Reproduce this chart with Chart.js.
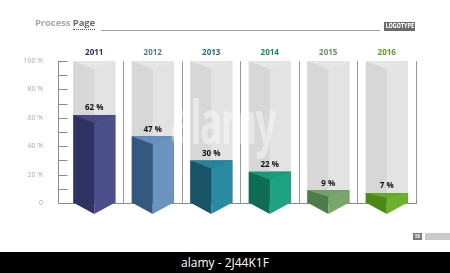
<!DOCTYPE html>
<html>
<head>
<meta charset="utf-8">
<script src="https://cdn.jsdelivr.net/npm/chart.js@4.4.1/dist/chart.umd.min.js"></script>
<style>
  body { margin: 0; width: 450px; height: 273px; overflow: hidden; background: #fff; position: relative; font-family: "Open Sans", sans-serif; }
  #wrap { position: absolute; left: 0; top: 0; width: 450px; height: 273px; }
  .title { position: absolute; left: 35px; top: 16px; font-size: 9.5px; font-weight: bold; color: #a8a8a8; letter-spacing: -0.1px; }
  .title span { color: #6a6a6a; border-bottom: 1.5px dotted #555; }
  .rule { position: absolute; left: 101px; top: 30px; width: 279px; height: 1px; background: #a0a0a0; }
  .logo { position: absolute; left: 384px; top: 22px; width: 31px; height: 9px; background: #6b6b6b; overflow: hidden; }
  .logo b { display: block; width: 44px; margin-left: -6.5px; transform: scaleX(0.68); color: #fff; font: bold 7px "DejaVu Sans", sans-serif; line-height: 9px; text-align: center; }
  .pg { position: absolute; left: 413px; top: 233px; width: 9px; height: 7px; background: #7a7a7a; color: #fff; font: bold 4.5px sans-serif; line-height: 7px; text-align: center; }
  .pgbar { position: absolute; left: 425px; top: 233px; width: 25px; height: 7px; background: #c9c9c9; }
  .mark { position: absolute; left: 170px; top: 80px; font: bold 60px "Open Sans", sans-serif; color: rgba(255,255,255,0.42); letter-spacing: -3px; transform: scaleX(0.62); transform-origin: 0 0; pointer-events: none; }
  .foot { position: absolute; left: 0; top: 252px; width: 450px; height: 21px; background: #000; color: #fff; font-size: 12px; line-height: 21px; text-align: center; }
</style>
</head>
<body>
<div id="wrap"><canvas id="myChart" width="450" height="273"></canvas></div>
<div class="title">Process <span>Page</span></div>
<div class="rule"></div>
<div class="logo"><b>LOGOTYPE</b></div>
<div class="mark">alamy</div>
<div class="pg">50</div>
<div class="pgbar"></div>
<div class="foot">alamy - 2J44K1F</div>
<script>
// дані
const years = ["2011", "2012", "2013", "2014", "2015", "2016"];
const shares = [62, 47, 30, 22, 9, 7];
const fullScale = [100, 100, 100, 100, 100, 100];
const yTicks = [0, 10, 20, 30, 40, 50, 60, 70, 80, 90, 100];

// кольори
const yearColors = ["#2c2e62", "#52789f", "#1d6f86", "#128a69", "#63905a", "#56a11f"];
const leftColors = ["#303261", "#34587f", "#165466", "#0e6c53", "#4f7b4a", "#4c8a17"];
const rightColors = ["#4b508d", "#6b95c0", "#2a8aa1", "#1ea381", "#79a76b", "#6cb12b"];
const roofColors = ["#454a85", "#6690bb", "#27839a", "#1a9a79", "#72a066", "#66a927"];

// 3D-грані для стовпчиків
const bevel = {
  id: "bevel",
  afterDatasetDraw(chart, args) {
    const ctx = chart.ctx;
    const ds = chart.data.datasets[args.index];
    args.meta.data.forEach((bar, i) => {
      const half = bar.width / 2;
      const x = bar.x, top = bar.y, base = bar.base;
      const roof = Math.min(8, (base - top) * 0.5);
      ctx.save();
      ctx.fillStyle = ds.rightFace[i];
      ctx.fillRect(x, top, half, base - top);
      ctx.fillStyle = ds.roofFace[i];
      ctx.beginPath();
      ctx.moveTo(x - half, top);
      ctx.lineTo(x + half, top);
      ctx.lineTo(x, top + roof);
      ctx.closePath();
      ctx.fill();
      if (ds.tip) {
        ctx.fillStyle = ds.backgroundColor[i];
        ctx.beginPath();
        ctx.moveTo(x - half, base - 0.5);
        ctx.lineTo(x, base - 0.5);
        ctx.lineTo(x, base + 11);
        ctx.closePath();
        ctx.fill();
        ctx.fillStyle = ds.rightFace[i];
        ctx.beginPath();
        ctx.moveTo(x, base - 0.5);
        ctx.lineTo(x + half, base - 0.5);
        ctx.lineTo(x, base + 11);
        ctx.closePath();
        ctx.fill();
        // підпис значення
        ctx.fillStyle = "#111";
        ctx.font = "bold 8px 'Open Sans', sans-serif";
        ctx.textAlign = "center";
        ctx.textBaseline = "middle";
        ctx.fillText(ds.data[i] + " %", x, top - 7);
      }
      ctx.restore();
    });
  },
};

// вісь Y з рисками
const axisLines = {
  id: "axisLines",
  beforeDatasetsDraw(chart) {
    const ctx = chart.ctx;
    const y = chart.scales.y;
    const area = chart.chartArea;
    const ax = area.left - 6.5;
    ctx.save();
    ctx.strokeStyle = "#8a8a8a";
    ctx.lineWidth = 1;
    ctx.beginPath();
    ctx.moveTo(ax, y.getPixelForValue(100));
    ctx.lineTo(ax, Math.round(y.getPixelForValue(0)) + 0.5);
    yTicks.forEach((v) => {
      const py = Math.round(y.getPixelForValue(v)) + 0.5;
      ctx.moveTo(ax, py);
      ctx.lineTo(ax + 9, py);
    });
    const by = Math.round(y.getPixelForValue(0)) + 0.5;
    ctx.moveTo(ax, by);
    ctx.lineTo(area.right + 0.5, by);
    ctx.moveTo(area.right + 0.5, by);
    ctx.lineTo(area.right + 0.5, by - 4);
    ctx.stroke();
    ctx.restore();
  },
};

function main() {
  const ctx = document.getElementById("myChart").getContext("2d");
  new Chart(ctx, {
    type: "bar",
    data: {
      labels: years,
      datasets: [
        {
          label: "Частка",
          data: shares,
          backgroundColor: leftColors,
          rightFace: rightColors,
          roofFace: roofColors,
          tip: true,
          grouped: false,
          order: 0,
          barPercentage: 0.72,
          categoryPercentage: 1,
        },
        {
          label: "Фон",
          data: fullScale,
          backgroundColor: fullScale.map(() => "#d7d7d7"),
          rightFace: fullScale.map(() => "#e3e3e3"),
          roofFace: fullScale.map(() => "#e6e6e6"),
          tip: false,
          grouped: false,
          order: 1,
          barPercentage: 0.72,
          categoryPercentage: 1,
        },
      ],
    },
    options: {
      responsive: false,
      animation: false,
      events: [],
      layout: { padding: { left: 0, top: 0, right: 34, bottom: 70 } },
      plugins: { legend: { display: false }, tooltip: { enabled: false } },
      scales: {
        x: {
          position: "top",
          afterFit: (s) => { s.height = 61; },
          border: { display: false },
          grid: {
            offset: true,
            drawTicks: false,
            color: (c) => (c.index === 0 || c.index === years.length ? "rgba(0,0,0,0)" : "#9a9a9a"),
          },
          ticks: {
            padding: 3,
            color: yearColors,
            font: { family: "'Open Sans', sans-serif", size: 8, weight: "bold" },
          },
        },
        y: {
          min: 0,
          max: 100,
          afterFit: (s) => { s.width = 65; },
          afterBuildTicks: (s) => { s.ticks = yTicks.map((v) => ({ value: v })); },
          border: { display: false },
          grid: { display: false },
          ticks: {
            autoSkip: false,
            padding: 14,
            color: "#a9a9a9",
            font: { family: "'Open Sans', sans-serif", size: 7 },
            callback: (v) => (v % 20 !== 0 ? "" : v === 0 ? "0" : v + " %"),
          },
        },
      },
    },
    plugins: [axisLines, bevel],
  });
}

document.addEventListener("DOMContentLoaded", main);
</script>
</body>
</html>
